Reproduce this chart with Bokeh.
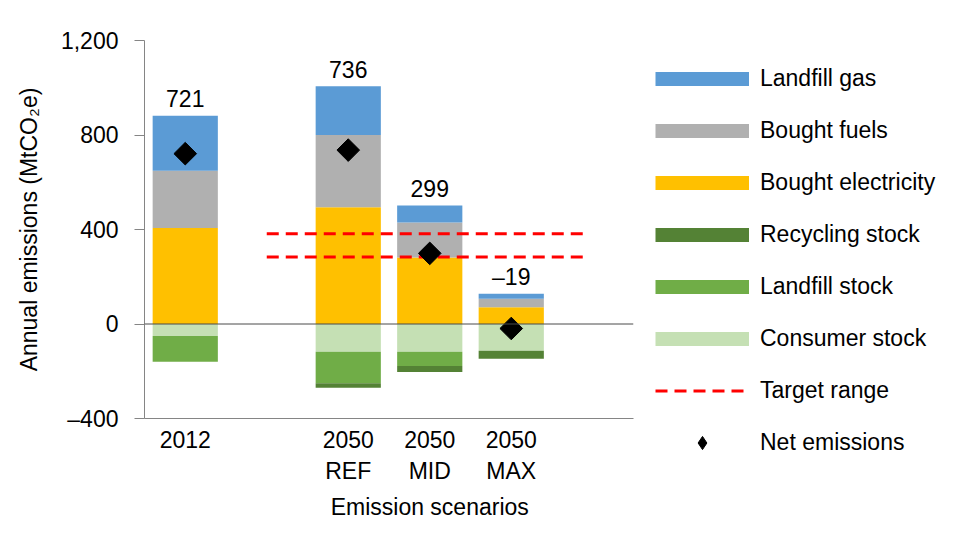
import math

from bokeh.core.properties import value
from bokeh.embed import file_html
from bokeh.models import (ColumnDataSource, FixedTicker, Legend, LegendItem,
                          LinearAxis, Range1d, Span)
from bokeh.plotting import figure
from bokeh.resources import INLINE

# Scenario categories and their slot on the x axis (slot 1 is left empty)
scenarios = ["2012", "2050\nREF", "2050\nMID", "2050\nMAX"]
slots = [0, 2, 3, 4]

# Emission components, MtCO2e (positive = sources, negative = stocks)
landfill_gas = [232, 206, 72, 21]
bought_fuels = [243, 306, 149, 36]
bought_electricity = [406, 494, 281, 71]
recycling_stock = [0, -19, -25, -34]
landfill_stock = [-109, -134, -61, 0]
consumer_stock = [-51, -117, -117, -113]

# Target range for 2050
target_low = 284
target_high = 382

y_ticks = [-400, 0, 400, 800, 1200]
y_tick_labels = ["\u2013400", "0", "400", "800", "1,200"]

FONT = "Liberation Sans"
FS = "23px"
NAN = float("nan")

net = [g + f + e + r + l + c for g, f, e, r, l, c in zip(
    landfill_gas, bought_fuels, bought_electricity,
    recycling_stock, landfill_stock, consumer_stock)]
pos_total = [g + f + e for g, f, e in zip(landfill_gas, bought_fuels, bought_electricity)]
net_text = [str(v) if v >= 0 else "\u2013" + str(-v) for v in net]

source = ColumnDataSource(dict(
    slot=slots,
    landfill_gas=landfill_gas,
    bought_fuels=bought_fuels,
    bought_electricity=bought_electricity,
    recycling_stock=recycling_stock,
    landfill_stock=landfill_stock,
    consumer_stock=consumer_stock,
    net=net,
    pos_total=pos_total,
    net_text=net_text,
))

colors = {
    "landfill_gas": "#5B9BD5",
    "bought_fuels": "#B0B0B0",
    "bought_electricity": "#FFC000",
    "recycling_stock": "#548235",
    "landfill_stock": "#70AD47",
    "consumer_stock": "#C5E0B4",
}

p = figure(frame_width=489, frame_height=378, output_backend="svg",
           toolbar_location=None,
           x_range=Range1d(-0.5, 5.5), y_range=Range1d(-400, 1200),
           min_border_left=144, min_border_right=0,
           min_border_top=40, min_border_bottom=116)
p.outline_line_color = None
p.xgrid.visible = False
p.ygrid.visible = False
p.background_fill_color = "white"
p.border_fill_color = "white"

# positive stack: electricity at the bottom, then fuels, then landfill gas
pos_fields = ["bought_electricity", "bought_fuels", "landfill_gas"]
p.vbar_stack(pos_fields, x="slot", width=0.8, source=source,
             color=[colors[f] for f in pos_fields], line_color=None)
# negative stack: consumer stock next to zero, then landfill, then recycling
neg_fields = ["consumer_stock", "landfill_stock", "recycling_stock"]
p.vbar_stack(neg_fields, x="slot", width=0.8, source=source,
             color=[colors[f] for f in neg_fields], line_color=None)

p.add_layout(Span(location=0, dimension="width", line_color="#4a4a4a", line_width=1))

target_renderers = []
for t in (target_high, target_low):
    r = p.line(x=[1, 4.95], y=[t, t], line_color="#FF0000", line_width=3,
               line_dash="12 7")
    target_renderers.append(r)

net_r = p.scatter(x="slot", y="net", source=source, marker="square",
                  angle=math.pi / 4, size=16, color="black")

p.text(x="slot", y="pos_total", text="net_text", source=source,
       text_align="center", text_baseline="alphabetic", y_offset=-17,
       text_font=value(FONT), text_font_size=FS, text_color="black")

# axes
p.yaxis.ticker = FixedTicker(ticks=y_ticks)
p.yaxis.major_label_overrides = dict(zip(y_ticks, y_tick_labels))
p.yaxis.minor_tick_line_color = None
p.yaxis.major_tick_out = 10
p.yaxis.major_tick_in = 0
p.yaxis.axis_line_color = "#858585"
p.yaxis.major_tick_line_color = "#858585"
p.yaxis.major_label_text_font = FONT
p.yaxis.major_label_text_font_size = FS
p.yaxis.major_label_text_color = "black"
p.yaxis.major_label_standoff = 16
p.yaxis.axis_label = "Annual emissions (MtCO\u2082e)"
p.yaxis.axis_label_text_font = FONT
p.yaxis.axis_label_text_font_size = FS
p.yaxis.axis_label_text_font_style = "normal"
p.yaxis.axis_label_text_color = "black"
p.yaxis.axis_label_standoff = 16

p.xaxis.ticker = FixedTicker(ticks=slots)
p.xaxis.major_label_overrides = dict(zip(slots, scenarios))
p.xaxis.minor_tick_line_color = None
p.xaxis.major_tick_line_color = None
p.xaxis.axis_line_color = "#858585"
p.xaxis.major_label_text_font = FONT
p.xaxis.major_label_text_font_size = FS
p.xaxis.major_label_text_color = "black"
p.xaxis.major_label_text_line_height = 1.2
p.xaxis.major_label_standoff = 2

# axis title row, centred under the middle 2050 scenario
title_axis = LinearAxis(ticker=FixedTicker(ticks=[3]),
                        major_label_overrides={3: "Emission scenarios"},
                        axis_line_color=None, major_tick_line_color=None,
                        minor_tick_line_color=None,
                        major_label_text_font=FONT, major_label_text_font_size=FS,
                        major_label_text_color="black", major_label_standoff=1)
p.add_layout(title_axis, "below")

# legend keys: thick line stubs stand in for the bar colours
legend_entries = [
    ("Landfill gas", "landfill_gas"),
    ("Bought fuels", "bought_fuels"),
    ("Bought electricity", "bought_electricity"),
    ("Recycling stock", "recycling_stock"),
    ("Landfill stock", "landfill_stock"),
    ("Consumer stock", "consumer_stock"),
]
items = []
for label, key in legend_entries:
    sw = p.line(x=[NAN], y=[NAN], line_color=colors[key], line_width=14)
    items.append(LegendItem(label=label, renderers=[sw]))
items.append(LegendItem(label="Target range", renderers=[target_renderers[0]]))
net_key = p.scatter(x=[NAN], y=[NAN], marker="diamond", color="black")
items.append(LegendItem(label="Net emissions", renderers=[net_key]))

legend = Legend(items=items, location="top_left", orientation="vertical",
                glyph_width=94, glyph_height=33, label_standoff=11,
                label_width=190, spacing=19, padding=0, margin=22,
                border_line_color=None, background_fill_alpha=0,
                label_text_font=FONT, label_text_font_size=FS,
                label_text_color="black")
p.add_layout(legend, "right")

open("out.html", "w").write(file_html(p, INLINE))
